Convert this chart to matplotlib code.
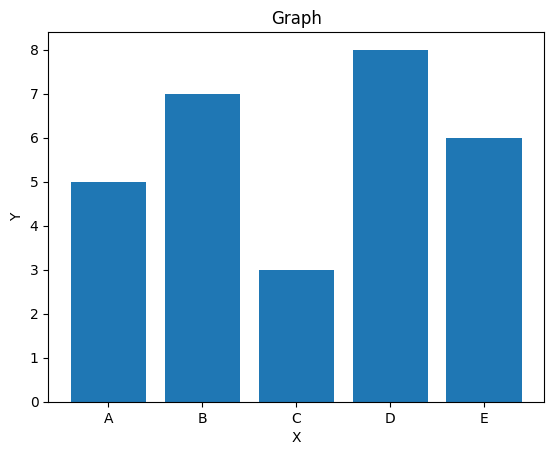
import matplotlib
matplotlib.use("Agg")
import matplotlib.pyplot as plt

categories = ["A", "B", "C", "D", "E"]
values = [5, 7, 3, 8, 6]

fig, ax = plt.subplots(figsize=(6.4, 4.8), dpi=100)
ax.bar(categories, values)
ax.set_title("Graph")
ax.set_xlabel("X")
ax.set_ylabel("Y")
fig.savefig("out.png", bbox_inches="tight")
